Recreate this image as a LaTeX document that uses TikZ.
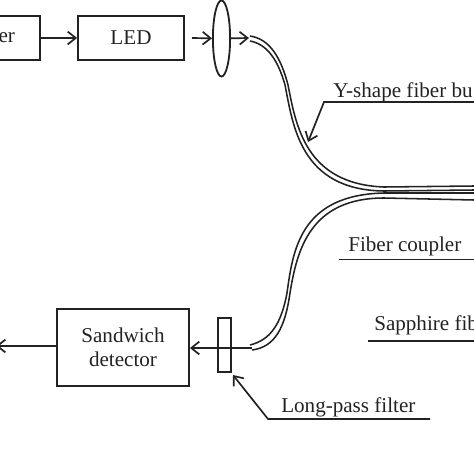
\documentclass[tikz,border=0pt]{standalone}
\usepackage{fontspec}
\setmainfont{Liberation Serif}
\usetikzlibrary{arrows.meta, shapes.geometric}
\definecolor{ink}{HTML}{222222}

\begin{document}
\begin{tikzpicture}[
    x=0.025cm, y=-0.025cm,
    box/.style={draw=ink, line width=1.3pt, align=center, inner sep=0pt, font=\fontsize{15}{17}\selectfont, text=ink},
    arrow/.style={-{Straight Barb[length=2mm,width=3.2mm]}, line width=1.2pt, draw=ink},
    strand/.style={line width=1.1pt, draw=ink},
    lbl/.style={anchor=base west, inner sep=0pt, font=\fontsize{15}{17}\selectfont, text=ink},
    rule/.style={line width=1.2pt, draw=ink}
]
\useasboundingbox (0,0) rectangle (474,474);
\clip (0,0) rectangle (474,474);

% Source chain
\node[box, minimum width=2cm, minimum height=1.1cm, text width=0.75cm, align=right, inner xsep=0.625cm] (source) at (0,38) {er};
\node[box, minimum width=2.65cm, minimum height=1.1cm] (led) at (131,38) {LED};
\node[draw=ink, line width=1.3pt, ellipse, minimum width=0.43cm, minimum height=1.9cm, inner sep=0pt] (lens) at (221.5,38.5) {};

% Detector side
\node[box, minimum width=3.3cm, minimum height=1.92cm] (detector) at (123,347.5) {Sandwich\\detector};
\node[box, minimum width=0.33cm, minimum height=1.35cm] (filter) at (224.5,345) {};

% Free ends
\coordinate (out) at (-4,346);
\coordinate (fibin) at (249,38);
\coordinate (fibout) at (252,348);
\coordinate (ledin) at (192,38);

% Arrows of the light path
\draw[arrow] (source) -- (led);
\draw[arrow] (ledin) -- (lens);
\draw[arrow] (lens) -- (fibin);
\draw[arrow] (fibout) -- (detector.east |- fibout);
\draw[arrow] (detector.west |- out) -- (out);

% Y-shape fiber, upper arm
\draw[strand] (250,36) .. controls (270,39) and (281,58) .. (288,85) .. controls (296,125) and (305,184) .. (384,187) -- (474,186);
\draw[strand] (250,41) .. controls (267,44) and (278,60) .. (285,85) .. controls (293,125) and (300,190) .. (384,191) -- (474,190);

% Y-shape fiber, lower arm
\draw[strand] (250,345) .. controls (270,340) and (281,325) .. (287,293) .. controls (293,250) and (300,195) .. (384,193) -- (474,193);
\draw[strand] (252,350) .. controls (275,347) and (285,328) .. (290,293) .. controls (297,250) and (310,198) .. (384,198) -- (474,200);

% Labels and their rules
\node[lbl] (bundle) at (333,97) {Y-shape fiber bu};
\node[lbl] (coupler) at (348,251) {Fiber coupler};
\node[lbl] (sapphire) at (374,330) {Sapphire fib};
\node[lbl] (longpass) at (281,412) {Long-pass filter};

\coordinate (bundlel) at (324,102);
\coordinate (bundler) at (474,102);
\coordinate (bundletip) at (308,142);
\coordinate (longl) at (268,419);
\coordinate (longr) at (430,419);
\coordinate (longtip) at (233,375);
\draw[rule] (339,259.5) -- (474,259.5);
\draw[rule] (368,341) -- (474,341);
\draw[arrow] (bundler) -- (bundlel) -- (bundletip);
\draw[arrow] (longr) -- (longl) -- (longtip);

\end{tikzpicture}
\end{document}
